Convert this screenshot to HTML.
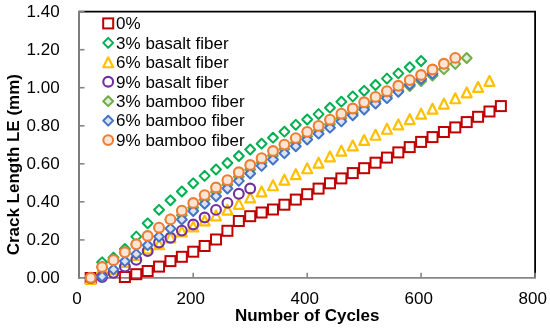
<!DOCTYPE html>
<html><head><meta charset="utf-8"><style>
html,body{margin:0;padding:0;background:#fff;width:550px;height:330px;overflow:hidden}
svg{display:block}
.t{font-family:"Liberation Sans",Arial,sans-serif;font-size:17px;fill:#000}
.b{font-family:"Liberation Sans",Arial,sans-serif;font-size:17px;font-weight:bold;fill:#000}
</style></head><body>
<svg width="550" height="330" viewBox="0 0 550 330">
<path d="M79 11.7H535.1V278" fill="none" stroke="#000" stroke-width="1.8"/>
<line x1="79.0" y1="10.8" x2="79.0" y2="279" stroke="#767676" stroke-width="1.9"/>
<line x1="78.05" y1="277.9" x2="536" y2="277.9" stroke="#868686" stroke-width="1.8"/>
<line x1="79.3" y1="239.9" x2="84.5" y2="239.9" stroke="#868686" stroke-width="1.6"/>
<line x1="79.3" y1="201.8" x2="84.5" y2="201.8" stroke="#868686" stroke-width="1.6"/>
<line x1="79.3" y1="163.8" x2="84.5" y2="163.8" stroke="#868686" stroke-width="1.6"/>
<line x1="79.3" y1="125.8" x2="84.5" y2="125.8" stroke="#868686" stroke-width="1.6"/>
<line x1="79.3" y1="87.7" x2="84.5" y2="87.7" stroke="#868686" stroke-width="1.6"/>
<line x1="79.3" y1="49.7" x2="84.5" y2="49.7" stroke="#868686" stroke-width="1.6"/>
<line x1="79.3" y1="11.7" x2="84.5" y2="11.7" stroke="#868686" stroke-width="1.6"/>
<line x1="193.2" y1="277.9" x2="193.2" y2="272.8" stroke="#868686" stroke-width="1.6"/>
<line x1="307.2" y1="277.9" x2="307.2" y2="272.8" stroke="#868686" stroke-width="1.6"/>
<line x1="421.1" y1="277.9" x2="421.1" y2="272.8" stroke="#868686" stroke-width="1.6"/>
<line x1="535.1" y1="277.9" x2="535.1" y2="272.8" stroke="#868686" stroke-width="1.6"/>
<text x="59.6" y="283.3" text-anchor="end" class="t">0.00</text>
<text x="59.6" y="245.3" text-anchor="end" class="t">0.20</text>
<text x="59.6" y="207.2" text-anchor="end" class="t">0.40</text>
<text x="59.6" y="169.2" text-anchor="end" class="t">0.60</text>
<text x="59.6" y="131.2" text-anchor="end" class="t">0.80</text>
<text x="59.6" y="93.1" text-anchor="end" class="t">1.00</text>
<text x="59.6" y="55.1" text-anchor="end" class="t">1.20</text>
<text x="59.6" y="17.1" text-anchor="end" class="t">1.40</text>
<text x="76.9" y="303.5" text-anchor="middle" class="t">0</text>
<text x="190.8" y="303.5" text-anchor="middle" class="t">200</text>
<text x="304.8" y="303.5" text-anchor="middle" class="t">400</text>
<text x="418.7" y="303.5" text-anchor="middle" class="t">600</text>
<text x="532.7" y="303.5" text-anchor="middle" class="t">800</text>
<text x="307.2" y="320.5" text-anchor="middle" class="b">Number of Cycles</text>
<text transform="translate(19.1 164.7) rotate(-90)" text-anchor="middle" class="b">Crack Length LE (mm)</text>
<rect x="85.69" y="273.00" width="10.0" height="10.0" fill="none" stroke="#C00000" stroke-width="2"/>
<rect x="119.88" y="272.00" width="10.0" height="10.0" fill="none" stroke="#C00000" stroke-width="2"/>
<rect x="131.27" y="269.20" width="10.0" height="10.0" fill="none" stroke="#C00000" stroke-width="2"/>
<rect x="142.66" y="266.00" width="10.0" height="10.0" fill="none" stroke="#C00000" stroke-width="2"/>
<rect x="154.06" y="261.60" width="10.0" height="10.0" fill="none" stroke="#C00000" stroke-width="2"/>
<rect x="165.45" y="256.10" width="10.0" height="10.0" fill="none" stroke="#C00000" stroke-width="2"/>
<rect x="176.85" y="251.80" width="10.0" height="10.0" fill="none" stroke="#C00000" stroke-width="2"/>
<rect x="188.24" y="246.70" width="10.0" height="10.0" fill="none" stroke="#C00000" stroke-width="2"/>
<rect x="199.63" y="241.00" width="10.0" height="10.0" fill="none" stroke="#C00000" stroke-width="2"/>
<rect x="211.03" y="234.50" width="10.0" height="10.0" fill="none" stroke="#C00000" stroke-width="2"/>
<rect x="222.42" y="225.80" width="10.0" height="10.0" fill="none" stroke="#C00000" stroke-width="2"/>
<rect x="233.82" y="216.00" width="10.0" height="10.0" fill="none" stroke="#C00000" stroke-width="2"/>
<rect x="245.21" y="211.20" width="10.0" height="10.0" fill="none" stroke="#C00000" stroke-width="2"/>
<rect x="256.60" y="207.50" width="10.0" height="10.0" fill="none" stroke="#C00000" stroke-width="2"/>
<rect x="268.00" y="204.50" width="10.0" height="10.0" fill="none" stroke="#C00000" stroke-width="2"/>
<rect x="279.39" y="199.70" width="10.0" height="10.0" fill="none" stroke="#C00000" stroke-width="2"/>
<rect x="290.79" y="194.60" width="10.0" height="10.0" fill="none" stroke="#C00000" stroke-width="2"/>
<rect x="302.18" y="189.20" width="10.0" height="10.0" fill="none" stroke="#C00000" stroke-width="2"/>
<rect x="313.57" y="183.60" width="10.0" height="10.0" fill="none" stroke="#C00000" stroke-width="2"/>
<rect x="324.97" y="178.30" width="10.0" height="10.0" fill="none" stroke="#C00000" stroke-width="2"/>
<rect x="336.36" y="173.40" width="10.0" height="10.0" fill="none" stroke="#C00000" stroke-width="2"/>
<rect x="347.76" y="168.10" width="10.0" height="10.0" fill="none" stroke="#C00000" stroke-width="2"/>
<rect x="359.15" y="163.20" width="10.0" height="10.0" fill="none" stroke="#C00000" stroke-width="2"/>
<rect x="370.54" y="157.70" width="10.0" height="10.0" fill="none" stroke="#C00000" stroke-width="2"/>
<rect x="381.94" y="152.60" width="10.0" height="10.0" fill="none" stroke="#C00000" stroke-width="2"/>
<rect x="393.33" y="147.40" width="10.0" height="10.0" fill="none" stroke="#C00000" stroke-width="2"/>
<rect x="404.73" y="142.10" width="10.0" height="10.0" fill="none" stroke="#C00000" stroke-width="2"/>
<rect x="416.12" y="136.90" width="10.0" height="10.0" fill="none" stroke="#C00000" stroke-width="2"/>
<rect x="427.51" y="132.10" width="10.0" height="10.0" fill="none" stroke="#C00000" stroke-width="2"/>
<rect x="438.91" y="127.00" width="10.0" height="10.0" fill="none" stroke="#C00000" stroke-width="2"/>
<rect x="450.30" y="122.40" width="10.0" height="10.0" fill="none" stroke="#C00000" stroke-width="2"/>
<rect x="461.70" y="117.10" width="10.0" height="10.0" fill="none" stroke="#C00000" stroke-width="2"/>
<rect x="473.09" y="111.80" width="10.0" height="10.0" fill="none" stroke="#C00000" stroke-width="2"/>
<rect x="484.48" y="106.50" width="10.0" height="10.0" fill="none" stroke="#C00000" stroke-width="2"/>
<rect x="495.88" y="101.10" width="10.0" height="10.0" fill="none" stroke="#C00000" stroke-width="2"/>
<path d="M102.09 257.35L107.04 262.30L102.09 267.25L97.14 262.30Z" fill="none" stroke="#00B050" stroke-width="2" stroke-linejoin="round"/>
<path d="M113.48 252.65L118.43 257.60L113.48 262.55L108.53 257.60Z" fill="none" stroke="#00B050" stroke-width="2" stroke-linejoin="round"/>
<path d="M124.88 244.05L129.83 249.00L124.88 253.95L119.93 249.00Z" fill="none" stroke="#00B050" stroke-width="2" stroke-linejoin="round"/>
<path d="M136.27 231.65L141.22 236.60L136.27 241.55L131.32 236.60Z" fill="none" stroke="#00B050" stroke-width="2" stroke-linejoin="round"/>
<path d="M147.66 218.35L152.61 223.30L147.66 228.25L142.71 223.30Z" fill="none" stroke="#00B050" stroke-width="2" stroke-linejoin="round"/>
<path d="M159.06 204.85L164.01 209.80L159.06 214.75L154.11 209.80Z" fill="none" stroke="#00B050" stroke-width="2" stroke-linejoin="round"/>
<path d="M170.45 195.35L175.40 200.30L170.45 205.25L165.50 200.30Z" fill="none" stroke="#00B050" stroke-width="2" stroke-linejoin="round"/>
<path d="M181.85 186.55L186.80 191.50L181.85 196.45L176.90 191.50Z" fill="none" stroke="#00B050" stroke-width="2" stroke-linejoin="round"/>
<path d="M193.24 178.35L198.19 183.30L193.24 188.25L188.29 183.30Z" fill="none" stroke="#00B050" stroke-width="2" stroke-linejoin="round"/>
<path d="M204.63 170.95L209.58 175.90L204.63 180.85L199.68 175.90Z" fill="none" stroke="#00B050" stroke-width="2" stroke-linejoin="round"/>
<path d="M216.03 164.55L220.98 169.50L216.03 174.45L211.08 169.50Z" fill="none" stroke="#00B050" stroke-width="2" stroke-linejoin="round"/>
<path d="M227.42 158.05L232.37 163.00L227.42 167.95L222.47 163.00Z" fill="none" stroke="#00B050" stroke-width="2" stroke-linejoin="round"/>
<path d="M238.82 151.05L243.77 156.00L238.82 160.95L233.87 156.00Z" fill="none" stroke="#00B050" stroke-width="2" stroke-linejoin="round"/>
<path d="M250.21 144.55L255.16 149.50L250.21 154.45L245.26 149.50Z" fill="none" stroke="#00B050" stroke-width="2" stroke-linejoin="round"/>
<path d="M261.60 138.75L266.55 143.70L261.60 148.65L256.65 143.70Z" fill="none" stroke="#00B050" stroke-width="2" stroke-linejoin="round"/>
<path d="M273.00 132.75L277.95 137.70L273.00 142.65L268.05 137.70Z" fill="none" stroke="#00B050" stroke-width="2" stroke-linejoin="round"/>
<path d="M284.39 126.75L289.34 131.70L284.39 136.65L279.44 131.70Z" fill="none" stroke="#00B050" stroke-width="2" stroke-linejoin="round"/>
<path d="M295.79 119.85L300.74 124.80L295.79 129.75L290.84 124.80Z" fill="none" stroke="#00B050" stroke-width="2" stroke-linejoin="round"/>
<path d="M307.18 114.55L312.13 119.50L307.18 124.45L302.23 119.50Z" fill="none" stroke="#00B050" stroke-width="2" stroke-linejoin="round"/>
<path d="M318.57 109.15L323.52 114.10L318.57 119.05L313.62 114.10Z" fill="none" stroke="#00B050" stroke-width="2" stroke-linejoin="round"/>
<path d="M329.97 102.75L334.92 107.70L329.97 112.65L325.02 107.70Z" fill="none" stroke="#00B050" stroke-width="2" stroke-linejoin="round"/>
<path d="M341.36 96.75L346.31 101.70L341.36 106.65L336.41 101.70Z" fill="none" stroke="#00B050" stroke-width="2" stroke-linejoin="round"/>
<path d="M352.76 91.45L357.71 96.40L352.76 101.35L347.81 96.40Z" fill="none" stroke="#00B050" stroke-width="2" stroke-linejoin="round"/>
<path d="M364.15 85.85L369.10 90.80L364.15 95.75L359.20 90.80Z" fill="none" stroke="#00B050" stroke-width="2" stroke-linejoin="round"/>
<path d="M375.54 80.05L380.49 85.00L375.54 89.95L370.59 85.00Z" fill="none" stroke="#00B050" stroke-width="2" stroke-linejoin="round"/>
<path d="M386.94 73.65L391.89 78.60L386.94 83.55L381.99 78.60Z" fill="none" stroke="#00B050" stroke-width="2" stroke-linejoin="round"/>
<path d="M398.33 68.45L403.28 73.40L398.33 78.35L393.38 73.40Z" fill="none" stroke="#00B050" stroke-width="2" stroke-linejoin="round"/>
<path d="M409.73 62.25L414.68 67.20L409.73 72.15L404.78 67.20Z" fill="none" stroke="#00B050" stroke-width="2" stroke-linejoin="round"/>
<path d="M421.12 56.05L426.07 61.00L421.12 65.95L416.17 61.00Z" fill="none" stroke="#00B050" stroke-width="2" stroke-linejoin="round"/>
<path d="M90.69 274.05L95.64 283.95L85.74 283.95Z" fill="none" stroke="#FFC000" stroke-width="2.2" stroke-linejoin="round"/>
<path d="M102.09 263.05L107.04 272.95L97.14 272.95Z" fill="none" stroke="#FFC000" stroke-width="2.2" stroke-linejoin="round"/>
<path d="M113.48 264.55L118.43 274.45L108.53 274.45Z" fill="none" stroke="#FFC000" stroke-width="2.2" stroke-linejoin="round"/>
<path d="M124.88 257.05L129.83 266.95L119.93 266.95Z" fill="none" stroke="#FFC000" stroke-width="2.2" stroke-linejoin="round"/>
<path d="M136.27 250.05L141.22 259.95L131.32 259.95Z" fill="none" stroke="#FFC000" stroke-width="2.2" stroke-linejoin="round"/>
<path d="M147.66 243.45L152.61 253.35L142.71 253.35Z" fill="none" stroke="#FFC000" stroke-width="2.2" stroke-linejoin="round"/>
<path d="M159.06 239.25L164.01 249.15L154.11 249.15Z" fill="none" stroke="#FFC000" stroke-width="2.2" stroke-linejoin="round"/>
<path d="M170.45 232.55L175.40 242.45L165.50 242.45Z" fill="none" stroke="#FFC000" stroke-width="2.2" stroke-linejoin="round"/>
<path d="M181.85 226.55L186.80 236.45L176.90 236.45Z" fill="none" stroke="#FFC000" stroke-width="2.2" stroke-linejoin="round"/>
<path d="M193.24 221.55L198.19 231.45L188.29 231.45Z" fill="none" stroke="#FFC000" stroke-width="2.2" stroke-linejoin="round"/>
<path d="M204.63 215.55L209.58 225.45L199.68 225.45Z" fill="none" stroke="#FFC000" stroke-width="2.2" stroke-linejoin="round"/>
<path d="M216.03 210.55L220.98 220.45L211.08 220.45Z" fill="none" stroke="#FFC000" stroke-width="2.2" stroke-linejoin="round"/>
<path d="M227.42 204.65L232.37 214.55L222.47 214.55Z" fill="none" stroke="#FFC000" stroke-width="2.2" stroke-linejoin="round"/>
<path d="M238.82 198.95L243.77 208.85L233.87 208.85Z" fill="none" stroke="#FFC000" stroke-width="2.2" stroke-linejoin="round"/>
<path d="M250.21 192.55L255.16 202.45L245.26 202.45Z" fill="none" stroke="#FFC000" stroke-width="2.2" stroke-linejoin="round"/>
<path d="M261.60 186.55L266.55 196.45L256.65 196.45Z" fill="none" stroke="#FFC000" stroke-width="2.2" stroke-linejoin="round"/>
<path d="M273.00 180.35L277.95 190.25L268.05 190.25Z" fill="none" stroke="#FFC000" stroke-width="2.2" stroke-linejoin="round"/>
<path d="M284.39 174.75L289.34 184.65L279.44 184.65Z" fill="none" stroke="#FFC000" stroke-width="2.2" stroke-linejoin="round"/>
<path d="M295.79 169.25L300.74 179.15L290.84 179.15Z" fill="none" stroke="#FFC000" stroke-width="2.2" stroke-linejoin="round"/>
<path d="M307.18 163.35L312.13 173.25L302.23 173.25Z" fill="none" stroke="#FFC000" stroke-width="2.2" stroke-linejoin="round"/>
<path d="M318.57 157.75L323.52 167.65L313.62 167.65Z" fill="none" stroke="#FFC000" stroke-width="2.2" stroke-linejoin="round"/>
<path d="M329.97 151.45L334.92 161.35L325.02 161.35Z" fill="none" stroke="#FFC000" stroke-width="2.2" stroke-linejoin="round"/>
<path d="M341.36 145.75L346.31 155.65L336.41 155.65Z" fill="none" stroke="#FFC000" stroke-width="2.2" stroke-linejoin="round"/>
<path d="M352.76 140.55L357.71 150.45L347.81 150.45Z" fill="none" stroke="#FFC000" stroke-width="2.2" stroke-linejoin="round"/>
<path d="M364.15 135.05L369.10 144.95L359.20 144.95Z" fill="none" stroke="#FFC000" stroke-width="2.2" stroke-linejoin="round"/>
<path d="M375.54 129.85L380.49 139.75L370.59 139.75Z" fill="none" stroke="#FFC000" stroke-width="2.2" stroke-linejoin="round"/>
<path d="M386.94 123.85L391.89 133.75L381.99 133.75Z" fill="none" stroke="#FFC000" stroke-width="2.2" stroke-linejoin="round"/>
<path d="M398.33 119.45L403.28 129.35L393.38 129.35Z" fill="none" stroke="#FFC000" stroke-width="2.2" stroke-linejoin="round"/>
<path d="M409.73 114.15L414.68 124.05L404.78 124.05Z" fill="none" stroke="#FFC000" stroke-width="2.2" stroke-linejoin="round"/>
<path d="M421.12 108.75L426.07 118.65L416.17 118.65Z" fill="none" stroke="#FFC000" stroke-width="2.2" stroke-linejoin="round"/>
<path d="M432.51 103.75L437.46 113.65L427.56 113.65Z" fill="none" stroke="#FFC000" stroke-width="2.2" stroke-linejoin="round"/>
<path d="M443.91 98.65L448.86 108.55L438.96 108.55Z" fill="none" stroke="#FFC000" stroke-width="2.2" stroke-linejoin="round"/>
<path d="M455.30 93.35L460.25 103.25L450.35 103.25Z" fill="none" stroke="#FFC000" stroke-width="2.2" stroke-linejoin="round"/>
<path d="M466.70 87.45L471.65 97.35L461.75 97.35Z" fill="none" stroke="#FFC000" stroke-width="2.2" stroke-linejoin="round"/>
<path d="M478.09 81.95L483.04 91.85L473.14 91.85Z" fill="none" stroke="#FFC000" stroke-width="2.2" stroke-linejoin="round"/>
<path d="M489.48 75.95L494.43 85.85L484.53 85.85Z" fill="none" stroke="#FFC000" stroke-width="2.2" stroke-linejoin="round"/>
<circle cx="90.69" cy="278.00" r="4.9" fill="none" stroke="#7030A0" stroke-width="2.1"/>
<circle cx="102.09" cy="277.00" r="4.9" fill="none" stroke="#7030A0" stroke-width="2.1"/>
<circle cx="113.48" cy="272.80" r="4.9" fill="none" stroke="#7030A0" stroke-width="2.1"/>
<circle cx="124.88" cy="266.60" r="4.9" fill="none" stroke="#7030A0" stroke-width="2.1"/>
<circle cx="136.27" cy="259.80" r="4.9" fill="none" stroke="#7030A0" stroke-width="2.1"/>
<circle cx="147.66" cy="251.00" r="4.9" fill="none" stroke="#7030A0" stroke-width="2.1"/>
<circle cx="159.06" cy="242.50" r="4.9" fill="none" stroke="#7030A0" stroke-width="2.1"/>
<circle cx="170.45" cy="237.80" r="4.9" fill="none" stroke="#7030A0" stroke-width="2.1"/>
<circle cx="181.85" cy="230.60" r="4.9" fill="none" stroke="#7030A0" stroke-width="2.1"/>
<circle cx="193.24" cy="224.50" r="4.9" fill="none" stroke="#7030A0" stroke-width="2.1"/>
<circle cx="204.63" cy="217.50" r="4.9" fill="none" stroke="#7030A0" stroke-width="2.1"/>
<circle cx="216.03" cy="209.90" r="4.9" fill="none" stroke="#7030A0" stroke-width="2.1"/>
<circle cx="227.42" cy="202.90" r="4.9" fill="none" stroke="#7030A0" stroke-width="2.1"/>
<circle cx="238.82" cy="193.80" r="4.9" fill="none" stroke="#7030A0" stroke-width="2.1"/>
<circle cx="250.21" cy="188.50" r="4.9" fill="none" stroke="#7030A0" stroke-width="2.1"/>
<path d="M90.69 272.85L95.64 277.80L90.69 282.75L85.74 277.80Z" fill="#E2EFDA" stroke="#70AD47" stroke-width="2" stroke-linejoin="round"/>
<path d="M102.09 262.05L107.04 267.00L102.09 271.95L97.14 267.00Z" fill="#E2EFDA" stroke="#70AD47" stroke-width="2" stroke-linejoin="round"/>
<path d="M113.48 255.25L118.43 260.20L113.48 265.15L108.53 260.20Z" fill="#E2EFDA" stroke="#70AD47" stroke-width="2" stroke-linejoin="round"/>
<path d="M124.88 247.35L129.83 252.30L124.88 257.25L119.93 252.30Z" fill="#E2EFDA" stroke="#70AD47" stroke-width="2" stroke-linejoin="round"/>
<path d="M136.27 239.35L141.22 244.30L136.27 249.25L131.32 244.30Z" fill="#E2EFDA" stroke="#70AD47" stroke-width="2" stroke-linejoin="round"/>
<path d="M147.66 231.05L152.61 236.00L147.66 240.95L142.71 236.00Z" fill="#E2EFDA" stroke="#70AD47" stroke-width="2" stroke-linejoin="round"/>
<path d="M159.06 222.75L164.01 227.70L159.06 232.65L154.11 227.70Z" fill="#E2EFDA" stroke="#70AD47" stroke-width="2" stroke-linejoin="round"/>
<path d="M170.45 214.45L175.40 219.40L170.45 224.35L165.50 219.40Z" fill="#E2EFDA" stroke="#70AD47" stroke-width="2" stroke-linejoin="round"/>
<path d="M181.85 210.25L186.80 215.20L181.85 220.15L176.90 215.20Z" fill="#E2EFDA" stroke="#70AD47" stroke-width="2" stroke-linejoin="round"/>
<path d="M193.24 202.55L198.19 207.50L193.24 212.45L188.29 207.50Z" fill="#E2EFDA" stroke="#70AD47" stroke-width="2" stroke-linejoin="round"/>
<path d="M204.63 194.65L209.58 199.60L204.63 204.55L199.68 199.60Z" fill="#E2EFDA" stroke="#70AD47" stroke-width="2" stroke-linejoin="round"/>
<path d="M216.03 187.05L220.98 192.00L216.03 196.95L211.08 192.00Z" fill="#E2EFDA" stroke="#70AD47" stroke-width="2" stroke-linejoin="round"/>
<path d="M227.42 179.75L232.37 184.70L227.42 189.65L222.47 184.70Z" fill="#E2EFDA" stroke="#70AD47" stroke-width="2" stroke-linejoin="round"/>
<path d="M238.82 171.85L243.77 176.80L238.82 181.75L233.87 176.80Z" fill="#E2EFDA" stroke="#70AD47" stroke-width="2" stroke-linejoin="round"/>
<path d="M250.21 164.55L255.16 169.50L250.21 174.45L245.26 169.50Z" fill="#E2EFDA" stroke="#70AD47" stroke-width="2" stroke-linejoin="round"/>
<path d="M261.60 157.75L266.55 162.70L261.60 167.65L256.65 162.70Z" fill="#E2EFDA" stroke="#70AD47" stroke-width="2" stroke-linejoin="round"/>
<path d="M273.00 150.55L277.95 155.50L273.00 160.45L268.05 155.50Z" fill="#E2EFDA" stroke="#70AD47" stroke-width="2" stroke-linejoin="round"/>
<path d="M284.39 144.15L289.34 149.10L284.39 154.05L279.44 149.10Z" fill="#E2EFDA" stroke="#70AD47" stroke-width="2" stroke-linejoin="round"/>
<path d="M295.79 137.65L300.74 142.60L295.79 147.55L290.84 142.60Z" fill="#E2EFDA" stroke="#70AD47" stroke-width="2" stroke-linejoin="round"/>
<path d="M307.18 131.45L312.13 136.40L307.18 141.35L302.23 136.40Z" fill="#E2EFDA" stroke="#70AD47" stroke-width="2" stroke-linejoin="round"/>
<path d="M318.57 125.45L323.52 130.40L318.57 135.35L313.62 130.40Z" fill="#E2EFDA" stroke="#70AD47" stroke-width="2" stroke-linejoin="round"/>
<path d="M329.97 119.25L334.92 124.20L329.97 129.15L325.02 124.20Z" fill="#E2EFDA" stroke="#70AD47" stroke-width="2" stroke-linejoin="round"/>
<path d="M341.36 113.25L346.31 118.20L341.36 123.15L336.41 118.20Z" fill="#E2EFDA" stroke="#70AD47" stroke-width="2" stroke-linejoin="round"/>
<path d="M352.76 108.05L357.71 113.00L352.76 117.95L347.81 113.00Z" fill="#E2EFDA" stroke="#70AD47" stroke-width="2" stroke-linejoin="round"/>
<path d="M364.15 101.85L369.10 106.80L364.15 111.75L359.20 106.80Z" fill="#E2EFDA" stroke="#70AD47" stroke-width="2" stroke-linejoin="round"/>
<path d="M375.54 96.45L380.49 101.40L375.54 106.35L370.59 101.40Z" fill="#E2EFDA" stroke="#70AD47" stroke-width="2" stroke-linejoin="round"/>
<path d="M386.94 90.75L391.89 95.70L386.94 100.65L381.99 95.70Z" fill="#E2EFDA" stroke="#70AD47" stroke-width="2" stroke-linejoin="round"/>
<path d="M398.33 85.35L403.28 90.30L398.33 95.25L393.38 90.30Z" fill="#E2EFDA" stroke="#70AD47" stroke-width="2" stroke-linejoin="round"/>
<path d="M409.73 81.05L414.68 86.00L409.73 90.95L404.78 86.00Z" fill="#E2EFDA" stroke="#70AD47" stroke-width="2" stroke-linejoin="round"/>
<path d="M421.12 76.05L426.07 81.00L421.12 85.95L416.17 81.00Z" fill="#E2EFDA" stroke="#70AD47" stroke-width="2" stroke-linejoin="round"/>
<path d="M432.51 70.55L437.46 75.50L432.51 80.45L427.56 75.50Z" fill="#E2EFDA" stroke="#70AD47" stroke-width="2" stroke-linejoin="round"/>
<path d="M443.91 64.25L448.86 69.20L443.91 74.15L438.96 69.20Z" fill="#E2EFDA" stroke="#70AD47" stroke-width="2" stroke-linejoin="round"/>
<path d="M455.30 58.95L460.25 63.90L455.30 68.85L450.35 63.90Z" fill="#E2EFDA" stroke="#70AD47" stroke-width="2" stroke-linejoin="round"/>
<path d="M466.70 53.05L471.65 58.00L466.70 62.95L461.75 58.00Z" fill="#E2EFDA" stroke="#70AD47" stroke-width="2" stroke-linejoin="round"/>
<path d="M90.69 273.05L95.64 278.00L90.69 282.95L85.74 278.00Z" fill="#DAE3F3" stroke="#4472C4" stroke-width="2" stroke-linejoin="round"/>
<path d="M102.09 271.55L107.04 276.50L102.09 281.45L97.14 276.50Z" fill="#DAE3F3" stroke="#4472C4" stroke-width="2" stroke-linejoin="round"/>
<path d="M113.48 264.45L118.43 269.40L113.48 274.35L108.53 269.40Z" fill="#DAE3F3" stroke="#4472C4" stroke-width="2" stroke-linejoin="round"/>
<path d="M124.88 256.25L129.83 261.20L124.88 266.15L119.93 261.20Z" fill="#DAE3F3" stroke="#4472C4" stroke-width="2" stroke-linejoin="round"/>
<path d="M136.27 249.15L141.22 254.10L136.27 259.05L131.32 254.10Z" fill="#DAE3F3" stroke="#4472C4" stroke-width="2" stroke-linejoin="round"/>
<path d="M147.66 240.25L152.61 245.20L147.66 250.15L142.71 245.20Z" fill="#DAE3F3" stroke="#4472C4" stroke-width="2" stroke-linejoin="round"/>
<path d="M159.06 231.65L164.01 236.60L159.06 241.55L154.11 236.60Z" fill="#DAE3F3" stroke="#4472C4" stroke-width="2" stroke-linejoin="round"/>
<path d="M170.45 223.65L175.40 228.60L170.45 233.55L165.50 228.60Z" fill="#DAE3F3" stroke="#4472C4" stroke-width="2" stroke-linejoin="round"/>
<path d="M181.85 214.55L186.80 219.50L181.85 224.45L176.90 219.50Z" fill="#DAE3F3" stroke="#4472C4" stroke-width="2" stroke-linejoin="round"/>
<path d="M193.24 206.05L198.19 211.00L193.24 215.95L188.29 211.00Z" fill="#DAE3F3" stroke="#4472C4" stroke-width="2" stroke-linejoin="round"/>
<path d="M204.63 198.85L209.58 203.80L204.63 208.75L199.68 203.80Z" fill="#DAE3F3" stroke="#4472C4" stroke-width="2" stroke-linejoin="round"/>
<path d="M216.03 191.35L220.98 196.30L216.03 201.25L211.08 196.30Z" fill="#DAE3F3" stroke="#4472C4" stroke-width="2" stroke-linejoin="round"/>
<path d="M227.42 183.55L232.37 188.50L227.42 193.45L222.47 188.50Z" fill="#DAE3F3" stroke="#4472C4" stroke-width="2" stroke-linejoin="round"/>
<path d="M238.82 175.95L243.77 180.90L238.82 185.85L233.87 180.90Z" fill="#DAE3F3" stroke="#4472C4" stroke-width="2" stroke-linejoin="round"/>
<path d="M250.21 168.55L255.16 173.50L250.21 178.45L245.26 173.50Z" fill="#DAE3F3" stroke="#4472C4" stroke-width="2" stroke-linejoin="round"/>
<path d="M261.60 160.95L266.55 165.90L261.60 170.85L256.65 165.90Z" fill="#DAE3F3" stroke="#4472C4" stroke-width="2" stroke-linejoin="round"/>
<path d="M273.00 154.55L277.95 159.50L273.00 164.45L268.05 159.50Z" fill="#DAE3F3" stroke="#4472C4" stroke-width="2" stroke-linejoin="round"/>
<path d="M284.39 148.25L289.34 153.20L284.39 158.15L279.44 153.20Z" fill="#DAE3F3" stroke="#4472C4" stroke-width="2" stroke-linejoin="round"/>
<path d="M295.79 141.35L300.74 146.30L295.79 151.25L290.84 146.30Z" fill="#DAE3F3" stroke="#4472C4" stroke-width="2" stroke-linejoin="round"/>
<path d="M307.18 134.55L312.13 139.50L307.18 144.45L302.23 139.50Z" fill="#DAE3F3" stroke="#4472C4" stroke-width="2" stroke-linejoin="round"/>
<path d="M318.57 128.75L323.52 133.70L318.57 138.65L313.62 133.70Z" fill="#DAE3F3" stroke="#4472C4" stroke-width="2" stroke-linejoin="round"/>
<path d="M329.97 122.75L334.92 127.70L329.97 132.65L325.02 127.70Z" fill="#DAE3F3" stroke="#4472C4" stroke-width="2" stroke-linejoin="round"/>
<path d="M341.36 116.45L346.31 121.40L341.36 126.35L336.41 121.40Z" fill="#DAE3F3" stroke="#4472C4" stroke-width="2" stroke-linejoin="round"/>
<path d="M352.76 110.35L357.71 115.30L352.76 120.25L347.81 115.30Z" fill="#DAE3F3" stroke="#4472C4" stroke-width="2" stroke-linejoin="round"/>
<path d="M364.15 104.55L369.10 109.50L364.15 114.45L359.20 109.50Z" fill="#DAE3F3" stroke="#4472C4" stroke-width="2" stroke-linejoin="round"/>
<path d="M375.54 98.65L380.49 103.60L375.54 108.55L370.59 103.60Z" fill="#DAE3F3" stroke="#4472C4" stroke-width="2" stroke-linejoin="round"/>
<path d="M386.94 93.25L391.89 98.20L386.94 103.15L381.99 98.20Z" fill="#DAE3F3" stroke="#4472C4" stroke-width="2" stroke-linejoin="round"/>
<path d="M398.33 86.85L403.28 91.80L398.33 96.75L393.38 91.80Z" fill="#DAE3F3" stroke="#4472C4" stroke-width="2" stroke-linejoin="round"/>
<path d="M409.73 79.55L414.68 84.50L409.73 89.45L404.78 84.50Z" fill="#DAE3F3" stroke="#4472C4" stroke-width="2" stroke-linejoin="round"/>
<path d="M421.12 74.05L426.07 79.00L421.12 83.95L416.17 79.00Z" fill="#DAE3F3" stroke="#4472C4" stroke-width="2" stroke-linejoin="round"/>
<path d="M432.51 68.75L437.46 73.70L432.51 78.65L427.56 73.70Z" fill="#DAE3F3" stroke="#4472C4" stroke-width="2" stroke-linejoin="round"/>
<circle cx="90.69" cy="277.80" r="4.9" fill="#FBE5D6" stroke="#ED7D31" stroke-width="2.1"/>
<circle cx="102.09" cy="267.00" r="4.9" fill="#FBE5D6" stroke="#ED7D31" stroke-width="2.1"/>
<circle cx="113.48" cy="260.20" r="4.9" fill="#FBE5D6" stroke="#ED7D31" stroke-width="2.1"/>
<circle cx="124.88" cy="252.30" r="4.9" fill="#FBE5D6" stroke="#ED7D31" stroke-width="2.1"/>
<circle cx="136.27" cy="244.30" r="4.9" fill="#FBE5D6" stroke="#ED7D31" stroke-width="2.1"/>
<circle cx="147.66" cy="236.00" r="4.9" fill="#FBE5D6" stroke="#ED7D31" stroke-width="2.1"/>
<circle cx="159.06" cy="227.70" r="4.9" fill="#FBE5D6" stroke="#ED7D31" stroke-width="2.1"/>
<circle cx="170.45" cy="219.40" r="4.9" fill="#FBE5D6" stroke="#ED7D31" stroke-width="2.1"/>
<circle cx="181.85" cy="210.70" r="4.9" fill="#FBE5D6" stroke="#ED7D31" stroke-width="2.1"/>
<circle cx="193.24" cy="203.00" r="4.9" fill="#FBE5D6" stroke="#ED7D31" stroke-width="2.1"/>
<circle cx="204.63" cy="195.10" r="4.9" fill="#FBE5D6" stroke="#ED7D31" stroke-width="2.1"/>
<circle cx="216.03" cy="187.50" r="4.9" fill="#FBE5D6" stroke="#ED7D31" stroke-width="2.1"/>
<circle cx="227.42" cy="180.20" r="4.9" fill="#FBE5D6" stroke="#ED7D31" stroke-width="2.1"/>
<circle cx="238.82" cy="172.30" r="4.9" fill="#FBE5D6" stroke="#ED7D31" stroke-width="2.1"/>
<circle cx="250.21" cy="165.00" r="4.9" fill="#FBE5D6" stroke="#ED7D31" stroke-width="2.1"/>
<circle cx="261.60" cy="158.20" r="4.9" fill="#FBE5D6" stroke="#ED7D31" stroke-width="2.1"/>
<circle cx="273.00" cy="151.00" r="4.9" fill="#FBE5D6" stroke="#ED7D31" stroke-width="2.1"/>
<circle cx="284.39" cy="144.60" r="4.9" fill="#FBE5D6" stroke="#ED7D31" stroke-width="2.1"/>
<circle cx="295.79" cy="138.10" r="4.9" fill="#FBE5D6" stroke="#ED7D31" stroke-width="2.1"/>
<circle cx="307.18" cy="131.90" r="4.9" fill="#FBE5D6" stroke="#ED7D31" stroke-width="2.1"/>
<circle cx="318.57" cy="125.90" r="4.9" fill="#FBE5D6" stroke="#ED7D31" stroke-width="2.1"/>
<circle cx="329.97" cy="119.70" r="4.9" fill="#FBE5D6" stroke="#ED7D31" stroke-width="2.1"/>
<circle cx="341.36" cy="113.70" r="4.9" fill="#FBE5D6" stroke="#ED7D31" stroke-width="2.1"/>
<circle cx="352.76" cy="108.50" r="4.9" fill="#FBE5D6" stroke="#ED7D31" stroke-width="2.1"/>
<circle cx="364.15" cy="102.30" r="4.9" fill="#FBE5D6" stroke="#ED7D31" stroke-width="2.1"/>
<circle cx="375.54" cy="96.90" r="4.9" fill="#FBE5D6" stroke="#ED7D31" stroke-width="2.1"/>
<circle cx="386.94" cy="91.20" r="4.9" fill="#FBE5D6" stroke="#ED7D31" stroke-width="2.1"/>
<circle cx="398.33" cy="85.80" r="4.9" fill="#FBE5D6" stroke="#ED7D31" stroke-width="2.1"/>
<circle cx="409.73" cy="80.10" r="4.9" fill="#FBE5D6" stroke="#ED7D31" stroke-width="2.1"/>
<circle cx="421.12" cy="75.00" r="4.9" fill="#FBE5D6" stroke="#ED7D31" stroke-width="2.1"/>
<circle cx="432.51" cy="69.50" r="4.9" fill="#FBE5D6" stroke="#ED7D31" stroke-width="2.1"/>
<circle cx="443.91" cy="63.80" r="4.9" fill="#FBE5D6" stroke="#ED7D31" stroke-width="2.1"/>
<circle cx="455.30" cy="57.90" r="4.9" fill="#FBE5D6" stroke="#ED7D31" stroke-width="2.1"/>
<rect x="103.20" y="18.41" width="10.0" height="10.0" fill="none" stroke="#C00000" stroke-width="2"/>
<text x="116.1" y="29.1" class="t">0%</text>
<path d="M108.20 37.91L113.15 42.86L108.20 47.81L103.25 42.86Z" fill="none" stroke="#00B050" stroke-width="2" stroke-linejoin="round"/>
<text x="116.1" y="48.6" class="t">3% basalt fiber</text>
<path d="M108.20 57.36L113.15 67.26L103.25 67.26Z" fill="none" stroke="#FFC000" stroke-width="2.2" stroke-linejoin="round"/>
<text x="116.1" y="68.0" class="t">6% basalt fiber</text>
<circle cx="108.20" cy="81.76" r="4.9" fill="none" stroke="#7030A0" stroke-width="2.1"/>
<text x="116.1" y="87.5" class="t">9% basalt fiber</text>
<path d="M108.20 96.26L113.15 101.21L108.20 106.16L103.25 101.21Z" fill="#E2EFDA" stroke="#70AD47" stroke-width="2" stroke-linejoin="round"/>
<text x="116.1" y="106.9" class="t">3% bamboo fiber</text>
<path d="M108.20 115.71L113.15 120.66L108.20 125.61L103.25 120.66Z" fill="#DAE3F3" stroke="#4472C4" stroke-width="2" stroke-linejoin="round"/>
<text x="116.1" y="126.4" class="t">6% bamboo fiber</text>
<circle cx="108.20" cy="140.11" r="4.9" fill="#FBE5D6" stroke="#ED7D31" stroke-width="2.1"/>
<text x="116.1" y="145.8" class="t">9% bamboo fiber</text>
</svg>
</body></html>
